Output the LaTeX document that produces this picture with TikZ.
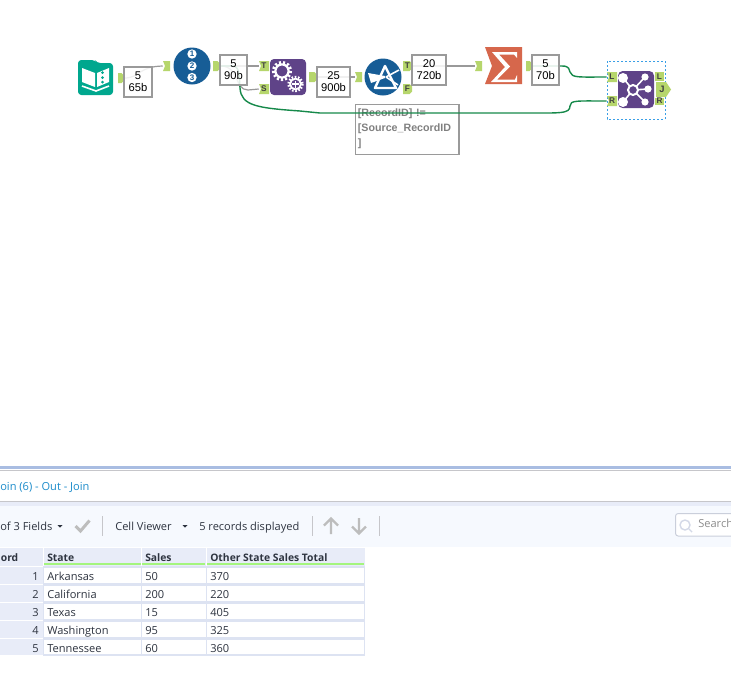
\documentclass[tikz,border=0pt]{standalone}
\usepackage{fontspec}
\setmainfont{Open Sans}
\newfontfamily\boxfont{Liberation Sans}
\usetikzlibrary{backgrounds,calc}
\definecolor{portc}{HTML}{B6D66C}
\definecolor{wireg}{HTML}{999999}
\definecolor{wiregreen}{HTML}{16894A}
\definecolor{tealc}{HTML}{00A78E}
\definecolor{bluec}{HTML}{175D96}
\definecolor{purplec}{HTML}{5F4388}
\definecolor{sigmac}{HTML}{D6674C}
\definecolor{boxb}{HTML}{9A9A9A}
\definecolor{linkc}{HTML}{1C8CCB}
\definecolor{selc}{HTML}{3A9FE6}
\definecolor{barc}{HTML}{A9BDE2}
\definecolor{ruleg}{HTML}{C6C6CA}
\definecolor{stripc}{HTML}{E8ECF8}
\definecolor{toolc}{HTML}{F6F9FE}
\definecolor{cellb}{HTML}{DDE3F2}
\definecolor{greenl}{HTML}{A4F57E}
\definecolor{txtc}{HTML}{2E3440}
\definecolor{iconsg}{HTML}{BDBDBD}
\tikzset{
  px/.style={line width=#1*0.75pt},
  port/.style={fill=portc},
  portlabel/.style={inner sep=0pt,font=\boxfont\bfseries\fontsize{6.2}{7}\selectfont,text=black!75},
  countbox/.style={draw=boxb,px=1.2,fill=white,fill opacity=.86,text opacity=1,inner sep=0pt,align=center,
    font=\boxfont\fontsize{8.4}{9}\selectfont,text=black},
  wire/.style={draw=wireg,px=1.2},
  greenwire/.style={draw=wiregreen,px=1.4},
  comment/.style={draw=boxb,px=1.2,fill=white,inner sep=0pt,align=left,anchor=north west,
    font=\boxfont\bfseries\fontsize{8}{11.2}\selectfont,text=black!50},
  ui/.style={inner sep=0pt,anchor=west,text height=7pt,text depth=1pt,font=\fontsize{8.3}{10}\selectfont,text=txtc},
  uihead/.style={ui,font=\bfseries\fontsize{7.75}{10}\selectfont},
  link/.style={ui,text=linkc},
  sep/.style={draw=ruleg,px=1},
  cellframe/.style={fill=white,draw=cellb,px=1.1},
  arrowic/.style={draw=iconsg,px=2.4},
  numc/.style={circle,fill=white,inner sep=0pt,minimum size=7pt,font=\boxfont\bfseries\fontsize{6}{6}\selectfont,text=bluec}
}
\newcommand{\portlabelnode}[6]{%
  \node[portlabel,minimum width={(#4-#2)*0.75pt},minimum height={(#5-#3)*0.75pt}] (#1) at ({(#2+#4)/2},{(#3+#5)/2}) {#6};}
\newcommand{\inport}[6]{%
  \fill[port] (#2,#3)--(#4,#3)--(#4,#5)--(#2,#5)--({#2+2},{(#3+#5)/2})--cycle;
  \portlabelnode{#1}{#2}{#3}{#4}{#5}{#6}}
\newcommand{\outport}[6]{%
  \fill[port] (#2,#3)--({#4-2.5},#3)--(#4,{#3+2.5})--(#4,{#5-2.5})--({#4-2.5},#5)--(#2,#5)--cycle;
  \portlabelnode{#1}{#2}{#3}{#4}{#5}{#6}}
\newcommand{\countnode}[7]{%
  \node[countbox,minimum width={(#4-#2)*0.75pt},minimum height={(#5-#3)*0.75pt}] (#1) at ({(#2+#4)/2},{(#3+#5)/2}) {#6\\#7};}
\begin{document}
\begin{tikzpicture}[x=0.75pt,y=-0.75pt]
\useasboundingbox (0,0) rectangle (731,672);

% --- icons ---
\fill[tealc,rounded corners=2.5pt] (78,60)--(95,60)--(97,63)--(113,63)--(113,95)--(78,95)--cycle;
\fill[white] (82,68)--(95,73)--(95,87)--(82,82)--cycle;
\fill[white] (97,73)--(109,68)--(109,82)--(97,87)--cycle;
\draw[white,px=1.6] (82,86)--(96,91)--(109,86);
\foreach \yy in {72.5,77.5,82} \fill[tealc] (102.5,\yy) circle (1.5);
\node[inner sep=0pt,minimum size=26pt] (book) at (95.5,77.5) {};
\fill[bluec] (192,66) circle (18.5);
\node[numc] (n1) at (192,54) {1};
\node[numc] (n2) at (192,66) {2};
\node[numc] (n3) at (192,77.5) {3};
\fill[purplec,rounded corners=3pt] (270,59) rectangle (306,95);
\draw[white,px=3,dash pattern=on 1.55pt off 1.55pt] (282,71) circle (8.6);
\draw[white,px=2.2] (282,71) circle (6.6);
\draw[white,px=2.4,dash pattern=on 1.2pt off 1.2pt] (295.5,84) circle (7);
\draw[white,px=1.8] (295.5,84) circle (5.4);
\draw[white,px=1.6] (292,84)--(299,84) (295.5,80.5)--(295.5,87.5);
\fill[bluec] (383,77) circle (18.5);
\draw[white,px=2.4,line join=round] (385,66)--(375,88)--(396,88)--cycle;
\fill[white] (368,73)--(385,76)--(385,78)--(371,83)--cycle;
\draw[white,px=1.6] (386,77)--(399,70);
\draw[white,px=1.6] (386,77)--(398,85);
\fill[sigmac] (485,47)--(522,47)--(522,84)--(485,84)--(492,66)--cycle;
\fill[white] (492,52)--(517,52)--(517,58)--(514,54.5)--(499,54.5)--(510,66.5)--(497,79.5)--(515,79.5)--(517,75)--(517,82)--(491,82)--(505,67)--cycle;
\draw[selc,px=1,dash pattern=on 1.5pt off 1.5pt] (607,61) rectangle (665,119);
\fill[purplec,rounded corners=3.5pt] (618,71) rectangle (654,108);
\draw[white,px=1.6] (633,90)--(623,78) (633,90)--(623,102) (633,90)--(645,77) (633,90)--(648,89) (633,90)--(645,102);
\fill[white] (623,78) circle (5) (623,102) circle (5) (645,77) circle (3.6) (648,89) circle (3.6) (645,102) circle (3.6);
\filldraw[fill=purplec,draw=white,px=2] (633,90) circle (5);

% --- ports ---
\outport{o1}{118}{73}{124}{83}{}
\inport{i2}{163}{61}{170}{71}{}
\outport{o2}{213}{61}{220}{71}{}
\inport{iT}{259}{61}{269}{71}{T}
\inport{iS}{259}{84}{269}{94}{S}
\outport{o3}{309}{72}{317}{82}{}
\inport{i4}{355}{72}{362}{82}{}
\outport{oT}{403}{61}{412}{71}{T}
\outport{oF}{403}{84}{412}{94}{F}
\inport{i5}{475}{61}{482}{71}{}
\outport{o5}{526}{61}{532}{71}{}
\inport{iL}{607}{72}{617}{82}{L}
\inport{iR}{607}{96}{617}{106}{R}
\fill[port] (655,72) rectangle (664,81.4);
\portlabelnode{oL}{655}{72}{664}{81}{L}
\fill[port] (655,97.6) rectangle (664,105);
\portlabelnode{oR}{655}{97}{664}{105}{R}
\fill[port] (656,82)--(666,82)--(671,89.5)--(666,97)--(656,97)--cycle;
\node[portlabel,font=\boxfont\bfseries\fontsize{7}{8}\selectfont,minimum width=11pt,minimum height=11pt] (oJ) at (662,89.5) {J};

% --- count boxes ---
\countnode{c1}{124}{67}{152}{97}{5}{65b}
\countnode{c2}{220}{55}{247}{85}{5}{90b}
\countnode{c3}{317}{67}{350}{97}{25}{900b}
\countnode{c4}{412}{55}{446}{85}{20}{720b}
\countnode{c5}{532}{55}{559}{85}{5}{70b}

% --- lower panel ---
\fill[barc] (0,466) rectangle (731,469.3);
\fill[ruleg] (0,469.6) rectangle (731,470.8);
\fill[ruleg] (0,501) rectangle (731,502);
\fill[stripc] (0,502) rectangle (731,506);
\fill[toolc] (0,506) rectangle (731,547);
\node[link] (title) at (0,486) {oin (6) - Out - Join};
\node[ui] (fields) at (0,526) {of 3 Fields};
\fill[txtc] (57.5,525)--(62.5,525)--(60,527.5)--cycle;
\draw[iconsg,px=3] (75.5,526)--(80.5,531)--(89.5,520.5);
\coordinate (s1t) at (102.5,516); \coordinate (s1b) at (102.5,536);
\draw[sep] (s1t)--(s1b);
\node[ui] (viewer) at (115,526) {Cell Viewer};
\fill[txtc] (182.5,525)--(187.5,525)--(185,527.5)--cycle;
\node[ui] (count) at (199,526) {5 records displayed};
\coordinate (s2t) at (312.5,516); \coordinate (s2b) at (312.5,536);
\draw[sep] (s2t)--(s2b);
\draw[arrowic,line join=miter] (331,534)--(331,519) (324,525.5)--(331,518.5)--(338,525.5);
\draw[arrowic,line join=miter] (359,518)--(359,533) (352,526.5)--(359,533.5)--(366,526.5);
\coordinate (s3t) at (379.5,516); \coordinate (s3b) at (379.5,536);
\draw[sep] (s3t)--(s3b);
\begin{scope}
\clip (0,0) rectangle (731,672);
\draw[draw=cellb!80!gray,fill=white,px=1,rounded corners=2pt] (675.5,513.5) rectangle (745,536);
\draw[cellb!90!gray,px=1.4] (685,525) circle (5);
\draw[cellb!90!gray,px=1.4] (689,529)--(692,532);
\node[ui,text=black!45] (search) at (698,523) {Search};
\end{scope}

% table
\fill[stripc] (0,548) rectangle (43,566);
\fill[stripc] (44,548) rectangle (141,566);
\fill[stripc] (142,548) rectangle (206,566);
\fill[stripc] (207,548) rectangle (364.5,566);
\fill[greenl] (44,563) rectangle (141,565);
\fill[greenl] (142,563) rectangle (205,565);
\fill[greenl] (207,563) rectangle (364,565);
\foreach \ya/\yb in {567/584,585/602,603/620,621/638,639/655}{
  \fill[stripc] (0,\ya) rectangle (43,\yb);
  \draw[cellframe] (43.5,\ya) rectangle (141.5,\yb);
  \draw[cellframe] (141.5,\ya) rectangle (206.5,\yb);
  \draw[cellframe] (206.5,\ya) rectangle (364.5,\yb);
}
\node[uihead] (hrec) at (0.6,557) {ord};
\node[uihead] (hstate) at (47,557) {State};
\node[uihead] (hsales) at (145,557) {Sales};
\node[uihead] (hother) at (210,557) {Other State Sales Total};
\foreach \rr/\yy/\st/\sa/\ot in {1/576/Arkansas/50/370,2/594/California/200/220,3/612/Texas/15/405,4/630/Washington/95/325,5/648/Tennessee/60/360}{
  \node[ui,anchor=east] (rid\rr) at (39,\yy) {\rr};
  \node[ui] (st\rr) at (47,\yy) {\st};
  \node[ui] (sa\rr) at (145,\yy) {\sa};
  \node[ui] (ot\rr) at (210,\yy) {\ot};
}

% --- comment and connectors behind the boxes ---
\begin{scope}[on background layer]
\fill[white] (0,0) rectangle (731,672);
\node[comment,minimum width=77.5pt,minimum height=37.5pt,text width=76pt] (note) at (355,103.5)
  {\hspace*{1pt}[RecordID] !=\\\hspace*{1pt}[Source\_RecordID\\\hspace*{1pt}]};
\draw[wire] (o1.east) .. controls (140,78) and (138,66.5) .. (i2.west);
\draw[wire] (o2.east) -- (iT.west);
\draw[wire] (o2.east) .. controls (240,66) and (234,90) .. (248,90) -- (iS.west);
\draw[wire] (o3.east) -- (i4.west);
\draw[wire] (oT.east) -- (i5.west);
\draw[greenwire] (o2.east) -- (232,66) .. controls (240,66) and (239,75) .. (240,88)
   .. controls (241,106) and (258,108) .. (300,111) -- (320,113) -- (523,113)
   .. controls (560,113) and (570,114) .. (570,106)
   .. controls (570,100) and (577,101) .. (iR.west);
\draw[greenwire] (o5.east) -- (562,66) .. controls (570,66) and (569,70) .. (570,72)
   .. controls (572,78) and (578,77) .. (iL.west);
\end{scope}
\end{tikzpicture}
\end{document}
